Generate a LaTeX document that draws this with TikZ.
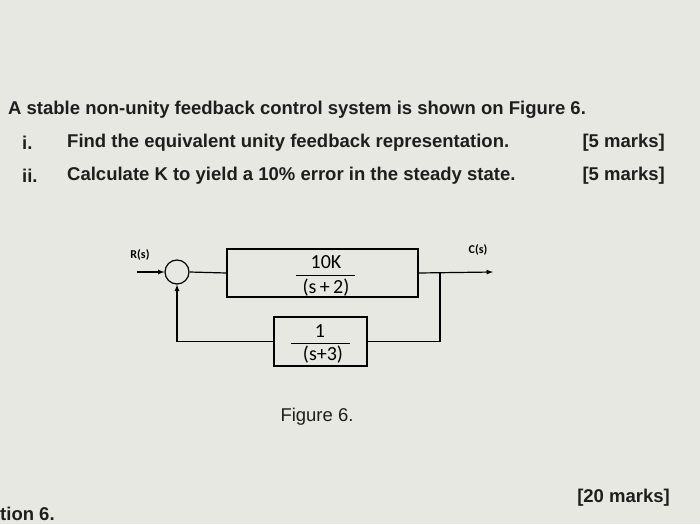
\documentclass[tikz,border=0pt]{standalone}
\usepackage{fontspec}
\setmainfont{Liberation Sans}
\newfontfamily\carfont{Carlito}
\begin{document}
\begin{tikzpicture}[x=1pt,y=-1pt,
  ln/.style={line width=1.2pt},
  txt/.style={anchor=west,inner sep=0pt,text={rgb,255:red,30;green,30;blue,30},font=\bfseries\fontsize{18.5}{20}\selectfont},
  frac/.style={inner sep=0pt,font=\carfont\fontsize{20}{22}\selectfont},
  lab/.style={inner sep=0pt,font=\carfont\bfseries\fontsize{12}{13}\selectfont}]
\fill[color={rgb,255:red,232;green,232;blue,226}] (0,0) rectangle (700,524);
\useasboundingbox (0,0) rectangle (700,524);
\node[txt] (t0) at (8,110) {A stable non-unity feedback control system is shown on Figure 6.};
\node[txt] (t1) at (22,143) {i.};
\node[txt] (t1b) at (67,143) {Find the equivalent unity feedback representation.};
\node[txt,anchor=east] (m1) at (665,143) {[5 marks]};
\node[txt] (t2) at (22,176) {ii.};
\node[txt] (t2b) at (67,176) {Calculate K to yield a 10\% error in the steady state.};
\node[txt,anchor=east] (m2) at (665,176) {[5 marks]};
\node[draw,circle,line width=1.2pt,minimum size=24pt,inner sep=0pt] (sum) at (177,272) {};
\node[draw,line width=1.4pt,minimum width=191pt,minimum height=48pt,inner sep=0pt] (G) at (322.5,273) {};
\node[frac] (Gt) at (326,262) {10K};
\node[frac] (Gb) at (326,288) {(s\,+\,2)};
\draw[line width=0.9pt] (296,275) -- (355,275);
\node[draw,line width=1.4pt,minimum width=93pt,minimum height=49pt,inner sep=0pt] (H) at (320.5,341.5) {};
\node[frac] (Ht) at (320,331) {1};
\node[frac] (Hb) at (323,355) {(s+3)};
\draw[line width=0.9pt] (291,343) -- (350,343);
\coordinate (in) at (137,272);
\coordinate (br) at (440,272);
\coordinate (out) at (493,272);
\draw[ln,-latex] (in) -- (sum.west);
\draw[ln] (sum.east) -- (G.west);
\draw[ln,-latex] (G.east) -- (out);
\draw[ln] (br) |- (H.east);
\draw[ln,-latex] (H.west) -| (sum.south);
\node[lab] (R) at (140,255) {R(s)};
\node[lab] (C) at (478,250) {C(s)};
\node[txt,anchor=center,font=\fontsize{18.5}{20}\selectfont] (fig) at (317,417) {Figure 6.};
\node[txt] (q) at (0,514) {tion 6.};
\node[txt,anchor=east] (m3) at (670,498) {[20 marks]};
\end{tikzpicture}
\end{document}
